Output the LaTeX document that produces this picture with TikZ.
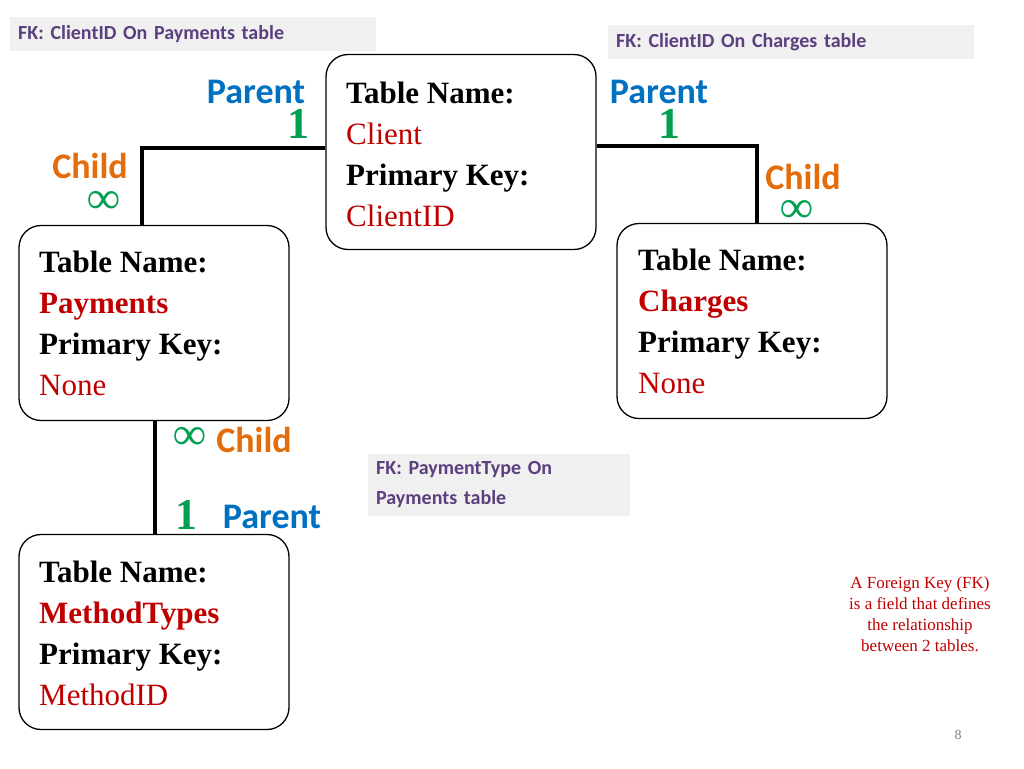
\documentclass[tikz,border=0pt]{standalone}
\usepackage{fontspec}
\setmainfont{Liberation Serif}
\newfontfamily\calfont{Carlito}
\begin{document}
\begin{tikzpicture}[x=1pt,y=-1pt]
\definecolor{dred}{HTML}{C00000}
\definecolor{pblue}{HTML}{0070C0}
\definecolor{corange}{HTML}{E46C0A}
\definecolor{ogreen}{HTML}{00A050}
\definecolor{fkpurple}{HTML}{5B3F7F}
\tikzset{
 tbl/.style={draw=black,line width=1.3pt,rounded corners=22pt,minimum width=270pt,minimum height=195pt},
 tbltext/.style={anchor=west,align=left,font=\fontsize{31}{41}\selectfont\bfseries,inner sep=0pt},
 link/.style={line width=3.5pt},
 par/.style={text=pblue,font=\calfont\fontsize{36}{36}\selectfont\bfseries},
 chd/.style={text=corange,font=\calfont\fontsize{36}{36}\selectfont\bfseries},
 one/.style={text=ogreen,font=\fontsize{44}{44}\selectfont\bfseries},
 inf/.style={text=ogreen,font=\fontsize{46}{46}\selectfont\bfseries},
 fk/.style={fill=black!6,text=fkpurple,font=\calfont\fontsize{20}{30}\selectfont\bfseries,align=left,anchor=west,inner sep=8pt}
}
\useasboundingbox (0,0) rectangle (1024,768);
\fill[white] (0,0) rectangle (1024,768);
\node[tbl] (client) at (461,152) {};
\node[tbl] (pay) at (154,323) {};
\node[tbl] (chg) at (752,321) {};
\node[tbl] (meth) at (154,632) {};
\node[tbltext] (tc) at (346,154) {Table Name:\\\textcolor{dred}{\mdseries Client}\\Primary Key:\\\textcolor{dred}{\mdseries ClientID}};
\node[tbltext] (tp) at (39,323) {Table Name:\\\textcolor{dred}{Payments}\\Primary Key:\\\textcolor{dred}{\mdseries None}};
\node[tbltext] (tg) at (638,321) {Table Name:\\\textcolor{dred}{Charges}\\Primary Key:\\\textcolor{dred}{\mdseries None}};
\node[tbltext] (tm) at (39,633) {Table Name:\\\textcolor{dred}{MethodTypes}\\Primary Key:\\\textcolor{dred}{\mdseries MethodID}};
\coordinate (c1) at (142,148);
\coordinate (c2) at (757,146);
\coordinate (b1) at (155,420);
\draw[link] (client.west |- c1) -- (c1) -- (c1 |- pay.north);
\draw[link] (client.east |- c2) -- (c2) -- (c2 |- chg.north);
\draw[link] (b1) -- (b1 |- meth.north);
\node[par] (p1) at (256,92) {Parent};
\node[one] (o1) at (298,124) {1};
\node[chd] (h1) at (90,166) {Child};
\node[inf] (i1) at (104,202) {∞};
\node[par] (p2) at (659,92) {Parent};
\node[one] (o2) at (669,124) {1};
\node[chd] (h2) at (803,177) {Child};
\node[inf] (i2) at (797,211) {∞};
\node[inf] (i3) at (190,438) {∞};
\node[chd] (h3) at (254,440) {Child};
\node[one] (o3) at (186,515) {1};
\node[par] (p3) at (272,517) {Parent};
\node[fk,text width=350pt] (fk1) at (10,34) {FK: ClientID On Payments table};
\node[fk,text width=350pt] (fk2) at (608,42) {FK: ClientID On Charges table};
\node[fk,text width=246pt] (fk3) at (368,485) {FK: PaymentType On\\Payments table};
\node[text=dred,font=\fontsize{17}{21}\selectfont,align=center] (note) at (920,614) {A Foreign Key (FK)\\is a field that defines\\the relationship\\between 2 tables.};
\node[text=black!50,font=\fontsize{14}{14}\selectfont] (pg) at (958,735) {8};
\end{tikzpicture}
\end{document}
